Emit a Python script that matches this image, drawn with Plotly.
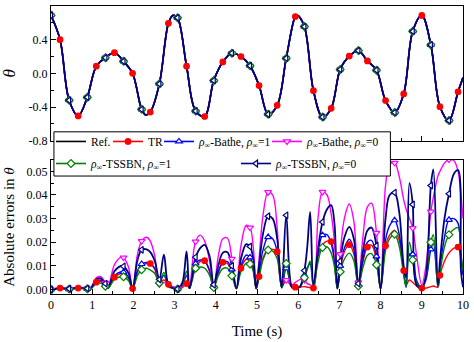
import plotly.graph_objects as go

# ---------------- data ----------------
# angle history (top panel)
t_theta = [0.00, 0.22, 0.44, 0.66, 0.88, 1.10, 1.32, 1.54, 1.76, 1.98,
           2.20, 2.30, 2.41, 2.63, 2.85, 2.96, 3.07, 3.29, 3.51, 3.73,
           3.95, 4.17, 4.39, 4.61, 4.83, 5.05, 5.27, 5.49, 5.71, 5.93,
           5.98, 6.15, 6.37, 6.59, 6.80, 7.02, 7.24, 7.46, 7.68, 7.90,
           8.12, 8.34, 8.56, 8.78, 9.00, 9.22, 9.44, 9.66, 9.88, 10.00]
theta_ref = [0.69, 0.40, -0.32, -0.506, -0.284, 0.085, 0.186, 0.245, 0.143, 0.0,
             -0.428, -0.494, -0.46, -0.125, 0.594, 0.688, 0.66, 0.085, -0.448, -0.513,
             -0.086, 0.135, 0.24, 0.2, 0.09, -0.145, -0.486, -0.38, 0.18, 0.675,
             0.688, 0.555, -0.206, -0.52, -0.416, 0.047, 0.205, 0.27, 0.147, 0.038,
             -0.323, -0.466, -0.245, 0.50, 0.688, 0.338, -0.396, -0.56, -0.22, -0.05]

# time steps where symbols are drawn
mark_even = [0.00, 0.44, 0.88, 1.32, 1.76, 2.20, 2.63, 3.07, 3.51, 3.95, 4.39, 4.83,
             5.27, 5.71, 6.15, 6.59, 7.02, 7.46, 7.90, 8.34, 8.78, 9.22, 9.66]
mark_odd = [0.22, 0.66, 1.10, 1.54, 1.98, 2.41, 2.85, 3.29, 3.73, 4.17, 4.61, 5.05,
            5.49, 5.93, 6.37, 6.80, 7.24, 7.68, 8.12, 8.56, 9.00, 9.44, 9.88]

# absolute errors (bottom panel)
t_err = [0.00, 0.22, 0.44, 0.66, 0.88, 0.95,
         1.10, 1.20, 1.32, 1.38,
         1.54, 1.70, 1.76, 1.88, 1.98,
         2.10, 2.20, 2.32, 2.41, 2.52, 2.63,
         2.74, 2.85,
         2.96, 3.07, 3.19,
         3.29, 3.36,
         3.43, 3.51, 3.62, 3.73, 3.85, 3.95,
         4.06, 4.17, 4.28, 4.39, 4.50,
         4.61, 4.74, 4.83, 4.91, 4.98,
         5.05, 5.15, 5.27, 5.38, 5.49, 5.60,
         5.71, 5.85,
         5.93, 6.04, 6.15, 6.22, 6.29, 6.37,
         6.48, 6.59, 6.70, 6.80, 6.88, 6.95,
         7.02, 7.12, 7.24, 7.35, 7.46,
         7.57, 7.68, 7.78, 7.90, 8.00,
         8.12, 8.22, 8.34, 8.45, 8.56, 8.62,
         8.70, 8.78, 8.87,
         9.00, 9.10, 9.22, 9.28, 9.39, 9.44,
         9.55, 9.66, 9.78, 9.88, 9.95, 10.00]

err_tr = [0, .0006, .0003, .0006, .0004, .0001,
          .0031, .0034, .0017, .0005,
          .0052, .0068, .0066, .0048, .0004,
          .0075, .0100, .0110, .0110, .0085, .0030,
          .0040, .0022,
          .0010, .0004, .0008,
          .0025, .0005,
          .0050, .0090, .0118, .0122, .0075, .0010,
          .0070, .0115, .0110, .0080, .0003,
          .0090, .0128, .0120, .0085, .0003,
          .0055, .0135, .0170, .0170, .0160, .0010,
          .0040, .0010,
          .0010, .0010, .0012, .0010, .0008, .0006,
          .0140, .0190, .0205, .0203, .0120, .0003,
          .0085, .0160, .0190, .0150, .0015,
          .0115, .0180, .0188, .0125, .0003,
          .0185, .0230, .0250, .0210, .0080, .0020,
          .0040, .0030, .0015,
          .0006, .0006, .0012, .0015, .0010, .0060,
          .0120, .0155, .0175, .0180, .0120, .0080]

err_bathe1 = [0, .0005, .0002, .0006, .0003, .0001,
              .0036, .0039, .0020, .0005,
              .0058, .0075, .0074, .0052, .0004,
              .0080, .0108, .0115, .0110, .0090, .0032,
              .0060, .0015,
              .0006, .0002, .0018,
              .0060, .0005,
              .0055, .0110, .0125, .0120, .0080, .0012,
              .0075, .0115, .0118, .0085, .0004,
              .0100, .0146, .0136, .0095, .0004,
              .0070, .0170, .0222, .0215, .0160, .0008,
              .0090, .0008,
              .0006, .0010, .0060, .0090, .0110, .0012,
              .0150, .0230, .0232, .0195, .0120, .0004,
              .0100, .0175, .0213, .0170, .0020,
              .0125, .0200, .0208, .0140, .0003,
              .0210, .0270, .0293, .0235, .0080, .0010,
              .0150, .0149, .0040,
              .0008, .0040, .0170, .0196, .0012, .0090,
              .0220, .0295, .0300, .0280, .0150, .0060]

err_bathe0 = [0, .0008, .0003, .0010, .0005, .0002,
              .0050, .0055, .0028, .0008,
              .0105, .0137, .0135, .0095, .0008,
              .0150, .0205, .0221, .0205, .0140, .0022,
              .0030, .0018,
              .0012, .0004, .0012,
              .0030, .0010,
              .0110, .0203, .0230, .0205, .0120, .0010,
              .0140, .0215, .0218, .0130, .0005,
              .0185, .0272, .0262, .0180, .0005,
              .0130, .0320, .0412, .0400, .0260, .0030,
              .0040, .0020,
              .0030, .0042, .0040, .0025, .0020, .0010,
              .0300, .0413, .0400, .0320, .0200, .0005,
              .0150, .0300, .0362, .0290, .0030,
              .0220, .0350, .0365, .0240, .0004,
              .0440, .0530, .0536, .0480, .0380, .0340,
              .0300, .0260, .0150,
              .0020, .0100, .0330, .0390, .0480, .0500,
              .0535, .0550, .0545, .0500, .0400, .0300]

err_tssbn1 = [0, .0004, .0002, .0005, .0003, .0001,
              .0025, .0027, .0014, .0004,
              .0042, .0055, .0054, .0038, .0003,
              .0060, .0084, .0090, .0083, .0068, .0028,
              .0072, .0012,
              .0005, .0002, .0020,
              .0078, .0004,
              .0040, .0090, .0095, .0090, .0060, .0008,
              .0058, .0088, .0090, .0058, .0003,
              .0075, .0112, .0108, .0075, .0003,
              .0052, .0128, .0167, .0162, .0130, .0006,
              .0110, .0008,
              .0006, .0010, .0050, .0085, .0120, .0012,
              .0115, .0178, .0180, .0155, .0095, .0003,
              .0075, .0128, .0154, .0122, .0015,
              .0092, .0145, .0152, .0105, .0003,
              .0165, .0215, .0234, .0185, .0060, .0010,
              .0200, .0125, .0030,
              .0008, .0050, .0200, .0232, .0012, .0070,
              .0180, .0232, .0255, .0262, .0150, .0080]

err_tssbn0 = [0, .0006, .0003, .0008, .0004, .0002,
              .0043, .0047, .0025, .0007,
              .0077, .0100, .0098, .0070, .0006,
              .0125, .0168, .0170, .0158, .0120, .0042,
              .0147, .0020,
              .0006, .0002, .0030,
              .0161, .0006,
              .0060, .0137, .0175, .0189, .0140, .0020,
              .0100, .0155, .0158, .0100, .0005,
              .0130, .0192, .0182, .0130, .0005,
              .0100, .0240, .0310, .0300, .0215, .0010,
              .0314, .0010,
              .0008, .0012, .0080, .0180, .0328, .0020,
              .0170, .0286, .0340, .0357, .0280, .0005,
              .0120, .0220, .0265, .0215, .0025,
              .0160, .0250, .0262, .0185, .0004,
              .0300, .0400, .0410, .0330, .0100, .0050,
              .0450, .0360, .0020,
              .0006, .0060, .0440, .0508, .0020, .0120,
              .0300, .0405, .0490, .0505, .0080, .0010]

for arr in (err_tr, err_bathe1, err_bathe0, err_tssbn1, err_tssbn0):
    assert len(arr) == len(t_err)
assert len(theta_ref) == len(t_theta)

# ---------------- styles ----------------
FONT = "Liberation Serif"
RHO = "<i>ρ</i><sub>∞</sub>"
methods = [
    dict(name="TR", color="#ff0000", symbol="circle", fill="#ff0000", size=5.5,
         err=err_tr, marks=mark_odd, legend="legend", lw=6),
    dict(name=RHO + "-Bathe, " + RHO + "=1", color="#0000ff", symbol="triangle-up", fill="white", size=6,
         err=err_bathe1, marks=mark_even, legend="legend", lw=63),
    dict(name=RHO + "-Bathe, " + RHO + "=0", color="#ff00ff", symbol="triangle-down", fill="white", size=6,
         err=err_bathe0, marks=mark_even, legend="legend", lw=None),
    dict(name=RHO + "-TSSBN, " + RHO + "=1", color="#008000", symbol="diamond", fill="white", size=6,
         err=err_tssbn1, marks=mark_even, legend="legend2", lw=140),
    dict(name=RHO + "-TSSBN, " + RHO + "=0", color="#000080", symbol="triangle-left", fill="white", size=6,
         err=err_tssbn0, marks=mark_even, legend="legend2", lw=None),
]

fig = go.Figure()

# ---- top panel ----
fig.add_trace(go.Scatter(x=t_theta, y=theta_ref, mode="lines", line=dict(color="black", width=1.6, shape="spline"),
                         showlegend=False, xaxis="x", yaxis="y", hoverinfo="skip"))
for m in methods:
    fig.add_trace(go.Scatter(x=t_theta, y=theta_ref, mode="lines",
                             line=dict(color=m["color"], width=1.8 if m["color"] == "#000080" else 1.4, shape="spline"),
                             showlegend=False, xaxis="x", yaxis="y", hoverinfo="skip"))
pos_theta = {round(t, 2): i for i, t in enumerate(t_theta)}
for m in methods:
    idx = [pos_theta[round(t, 2)] for t in m["marks"]]
    fig.add_trace(go.Scatter(x=[t_theta[i] for i in idx], y=[theta_ref[i] for i in idx], mode="markers",
                             marker=dict(symbol=m["symbol"], size=m["size"], color=m["fill"],
                                         line=dict(color=m["color"], width=1.2)),
                             showlegend=False, xaxis="x", yaxis="y", hoverinfo="skip"))

# ---- bottom panel ----
for m in methods:
    fig.add_trace(go.Scatter(x=t_err, y=m["err"], mode="lines",
                             line=dict(color=m["color"], width=1.8 if m["color"] == "#000080" else 1.4, shape="spline"),
                             showlegend=False, xaxis="x2", yaxis="y2", hoverinfo="skip"))
pos_err = {round(t, 2): i for i, t in enumerate(t_err)}
for m in methods:
    idx = [pos_err[round(t, 2)] for t in m["marks"]]
    fig.add_trace(go.Scatter(x=[t_err[i] for i in idx], y=[m["err"][i] for i in idx], mode="markers",
                             marker=dict(symbol=m["symbol"], size=m["size"], color=m["fill"],
                                         line=dict(color=m["color"], width=1.2)),
                             showlegend=False, xaxis="x2", yaxis="y2", hoverinfo="skip"))

# ---- legend entries ----
fig.add_trace(go.Scatter(x=[None], y=[None], mode="lines", name="Ref.", legendwidth=12,
                         line=dict(color="black", width=1.6), legend="legend", xaxis="x", yaxis="y"))
for m in methods:
    kw = {} if m["lw"] is None else dict(legendwidth=m["lw"])
    fig.add_trace(go.Scatter(x=[None], y=[None], mode="lines+markers", name=m["name"],
                             line=dict(color=m["color"], width=1.6),
                             marker=dict(symbol=m["symbol"], size=m["size"], color=m["fill"],
                                         line=dict(color=m["color"], width=1.2)),
                             legend=m["legend"], xaxis="x", yaxis="y", **kw))

axis_common = dict(showline=True, linecolor="black", linewidth=1, mirror=True, ticks="inside",
                   ticklen=5, tickwidth=1, tickcolor="black", showgrid=False, zeroline=False,
                   tickfont=dict(family=FONT, size=12, color="black"))

y_top_vals = [-0.8, -0.4, 0.0, 0.4, 0.8]
y_top_text = ["-0.8", "-0.4", "0.0", "0.4", "0.8"]
y_bot_vals = [0.00, 0.01, 0.02, 0.03, 0.04, 0.05]
y_bot_text = ["0.00", "0.01", "0.02", "0.03", "0.04", "0.05"]
x_vals = [0, 1, 2, 3, 4, 5, 6, 7, 8, 9, 10]

fig.update_layout(
    width=474, height=342,
    margin=dict(l=49, r=5, t=5, b=44),
    paper_bgcolor="white", plot_bgcolor="white",
    font=dict(family=FONT, size=12, color="black"),
    xaxis=dict(axis_common, domain=[0, 1], anchor="y", range=[0, 10], tickvals=x_vals,
               showticklabels=False,
               minor=dict(ticks="inside", ticklen=3, tick0=0, dtick=0.5, tickcolor="black")),
    yaxis=dict(axis_common, domain=[0.5324, 1], anchor="x", range=[-0.8, 0.8],
               tickvals=y_top_vals, ticktext=y_top_text,
               minor=dict(ticks="inside", ticklen=3, tick0=-0.8, dtick=0.2, tickcolor="black"),
               title=dict(text="<i>θ</i>", font=dict(family=FONT, size=17), standoff=12)),
    xaxis2=dict(axis_common, domain=[0, 1], anchor="y2", range=[0, 10], tickvals=x_vals,
                minor=dict(ticks="inside", ticklen=3, tick0=0, dtick=0.5, tickcolor="black"),
                title=dict(text="Time (s)", font=dict(family=FONT, size=15), standoff=14)),
    yaxis2=dict(axis_common, domain=[0, 0.4652], anchor="x2", range=[-0.0019, 0.0548],
                tickvals=y_bot_vals, ticktext=y_bot_text,
                minor=dict(ticks="inside", ticklen=3, tick0=0, dtick=0.005, tickcolor="black"),
                title=dict(text="Absolute errors in <i>θ</i>", font=dict(family=FONT, size=15), standoff=8)),
    legend=dict(orientation="h", x=0.0, y=0.580, xanchor="left", yanchor="top",
                bgcolor="rgba(0,0,0,0)", borderwidth=0, font=dict(family=FONT, size=11.5),
                tracegroupgap=0, itemwidth=30),
    legend2=dict(orientation="h", x=0.0, y=0.5035, xanchor="left", yanchor="top",
                 bgcolor="rgba(0,0,0,0)", borderwidth=0, font=dict(family=FONT, size=11.5),
                 itemwidth=30),
    shapes=[dict(type="rect", xref="paper", yref="paper", x0=0.0071, x1=0.8238, y0=0.4096, y1=0.5631,
                 fillcolor="white", line=dict(color="black", width=1), layer="above")],
    showlegend=True,
)

fig.write_html("out.html")
